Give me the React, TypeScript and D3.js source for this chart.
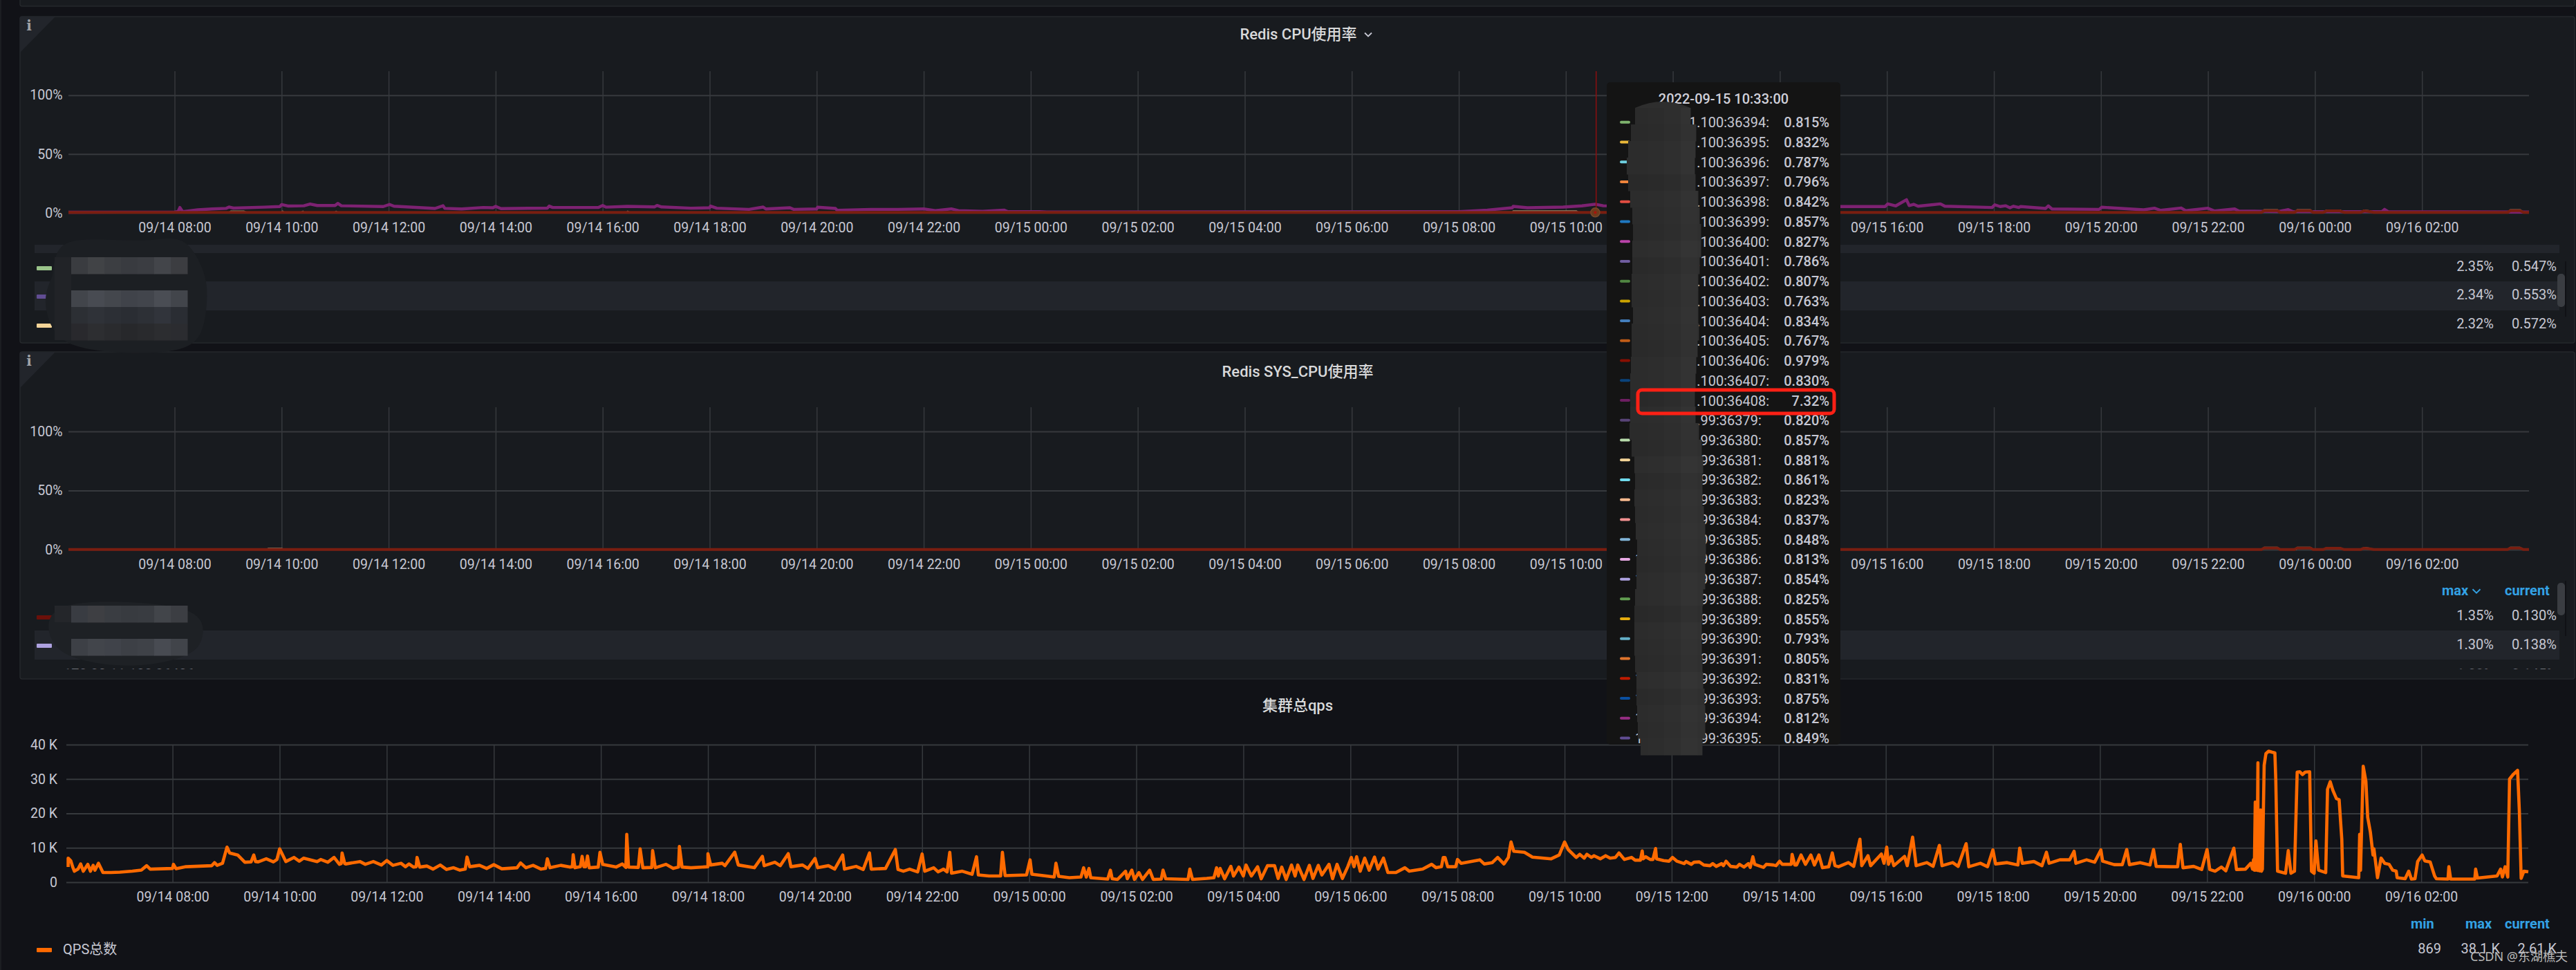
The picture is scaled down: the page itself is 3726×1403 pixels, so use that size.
import { useRef, useEffect } from "react";
import {
  select,
  line,
  scaleLinear,
  scaleTime,
  axisBottom,
  axisLeft,
  timeHour,
  timeFormat,
  curveBasisClosed,
} from "d3";

type Point = [number, number];

// every series point is [hours since 09/14 00:00, value]
const qpsPoints: Point[] = [
  [6.05, 4.4], [6.06, 7.0], [6.1, 6.2], [6.14, 4.5], [6.18, 3.2], [6.24, 3.8], [6.29, 5.3], [6.34, 3.2], [6.42, 5.2], [6.48, 3.2],
  [6.52, 4.9], [6.56, 3.5], [6.62, 5.5], [6.7, 2.8], [6.85, 2.8], [7.02, 2.9], [7.26, 3.2], [7.43, 3.5], [7.52, 4.8], [7.59, 3.8],
  [8.0, 4.0], [8.02, 5.2], [8.08, 3.9], [8.25, 4.5], [8.74, 4.8], [8.79, 5.7], [8.84, 4.9], [8.94, 5.5], [9.02, 10.2], [9.07, 8.5],
  [9.23, 7.9], [9.35, 5.8], [9.48, 5.9], [9.52, 7.9], [9.56, 6.0], [9.6, 5.9], [9.76, 6.8], [9.89, 5.9], [9.95, 6.6], [10.0, 9.7],
  [10.13, 6.0], [10.28, 7.2], [10.38, 6.1], [10.46, 7.0], [10.71, 6.0], [10.77, 6.6], [10.91, 5.8], [11.02, 7.2], [11.12, 5.2], [11.16, 5.4],
  [11.18, 8.5], [11.22, 5.4], [11.24, 5.3], [11.51, 6.0], [11.61, 5.2], [11.76, 6.0], [11.9, 5.0], [12.01, 6.3], [12.12, 4.9], [12.27, 5.5],
  [12.35, 4.5], [12.43, 5.3], [12.51, 4.4], [12.56, 4.5], [12.58, 7.2], [12.62, 4.4], [12.76, 4.7], [12.88, 3.8], [13.0, 5.0], [13.13, 3.7],
  [13.25, 4.2], [13.37, 3.5], [13.48, 3.8], [13.5, 7.3], [13.55, 4.5], [13.74, 4.9], [13.87, 4.0], [14.0, 5.1], [14.15, 3.9], [14.44, 4.2],
  [14.5, 5.6], [14.6, 4.2], [14.74, 4.9], [14.89, 3.8], [14.97, 4.0], [15.0, 6.8], [15.06, 4.2], [15.26, 4.9], [15.42, 4.4], [15.47, 4.5],
  [15.49, 8.0], [15.53, 4.2], [15.63, 4.5], [15.65, 7.5], [15.69, 4.5], [15.73, 4.5], [15.75, 7.6], [15.79, 4.2], [15.96, 4.4], [15.99, 8.7],
  [16.04, 5.2], [16.29, 4.4], [16.41, 5.3], [16.47, 4.3], [16.49, 13.9], [16.53, 4.4], [16.7, 4.3], [16.74, 9.7], [16.79, 4.2], [16.95, 4.3],
  [16.98, 9.2], [17.03, 4.2], [17.23, 5.2], [17.35, 4.0], [17.46, 4.4], [17.48, 10.4], [17.53, 4.4], [17.69, 4.2], [18.0, 4.5], [18.01, 8.3],
  [18.05, 5.0], [18.27, 5.5], [18.33, 4.8], [18.51, 8.7], [18.57, 5.0], [18.87, 4.2], [19.02, 7.5], [19.06, 4.8], [19.26, 5.8], [19.35, 4.8],
  [19.51, 8.3], [19.56, 4.5], [19.78, 5.0], [19.88, 4.0], [20.01, 6.9], [20.05, 4.2], [20.26, 4.8], [20.37, 3.8], [20.52, 7.9], [20.56, 3.8],
  [20.77, 4.6], [20.9, 3.7], [21.02, 8.5], [21.06, 3.8], [21.33, 4.0], [21.51, 9.5], [21.55, 3.7], [21.65, 3.2], [21.77, 3.8], [21.92, 3.0],
  [22.01, 8.2], [22.05, 3.2], [22.23, 4.2], [22.31, 3.0], [22.41, 3.8], [22.47, 3.0], [22.52, 8.7], [22.56, 2.6], [22.75, 3.2], [22.94, 2.3],
  [23.02, 7.4], [23.06, 2.1], [23.25, 1.8], [23.47, 1.8], [23.51, 8.7], [23.56, 1.9], [23.95, 2.1], [24.02, 6.5], [24.06, 2.3], [24.33, 1.8],
  [24.47, 1.5], [24.51, 5.5], [24.55, 1.7], [24.75, 1.3], [24.98, 1.5], [25.03, 4.2], [25.07, 1.5], [25.12, 4.0], [25.16, 1.3], [25.47, 0.9],
  [25.52, 3.5], [25.56, 1.0], [25.66, 0.8], [25.8, 3.2], [25.84, 1.0], [25.93, 3.5], [25.98, 0.8], [26.05, 2.8], [26.12, 0.8], [26.25, 3.5],
  [26.32, 0.8], [26.47, 0.9], [26.51, 3.5], [26.55, 1.0], [26.97, 0.8], [27.01, 3.8], [27.05, 0.8], [27.33, 1.1], [27.46, 1.3], [27.5, 4.2],
  [27.54, 1.8], [27.58, 4.0], [27.66, 1.0], [27.77, 4.6], [27.83, 1.8], [27.93, 4.4], [28.0, 1.8], [28.06, 5.0], [28.16, 1.8], [28.27, 4.5],
  [28.34, 1.0], [28.46, 4.8], [28.59, 4.8], [28.65, 1.1], [28.73, 4.4], [28.8, 0.8], [28.91, 5.0], [28.97, 1.8], [29.03, 5.0], [29.14, 0.8],
  [29.24, 4.9], [29.31, 1.1], [29.41, 4.9], [29.47, 2.1], [29.6, 5.2], [29.67, 1.0], [29.76, 5.2], [29.85, 1.1], [29.95, 4.5], [30.02, 7.2],
  [30.08, 4.5], [30.13, 7.4], [30.19, 3.2], [30.28, 7.0], [30.36, 3.5], [30.45, 7.3], [30.52, 3.8], [30.63, 7.0], [30.71, 2.8], [30.85, 2.8],
  [31.03, 4.2], [31.1, 3.2], [31.35, 3.8], [31.52, 5.2], [31.6, 4.2], [31.7, 4.5], [31.74, 7.2], [31.78, 7.2], [31.82, 4.5], [31.97, 4.5],
  [32.01, 6.6], [32.08, 5.5], [32.42, 6.5], [32.5, 5.3], [32.66, 5.7], [32.75, 7.2], [32.87, 5.3], [32.95, 7.2], [33.0, 11.7], [33.06, 9.0],
  [33.25, 8.7], [33.41, 7.3], [33.75, 6.8], [33.9, 7.9], [34.0, 11.7], [34.08, 9.5], [34.22, 7.2], [34.29, 8.1], [34.37, 7.0], [34.43, 8.1],
  [34.5, 7.2], [34.55, 7.7], [34.67, 6.8], [34.78, 7.7], [34.85, 7.0], [34.95, 7.2], [35.02, 8.5], [35.12, 6.6], [35.25, 7.2], [35.32, 6.4],
  [35.43, 6.4], [35.45, 9.1], [35.47, 6.8], [35.52, 7.4], [35.6, 6.6], [35.66, 6.6], [35.7, 9.8], [35.73, 6.8], [35.85, 6.3], [35.96, 6.1],
  [36.03, 7.2], [36.11, 6.1], [36.24, 5.4], [36.28, 6.0], [36.37, 5.2], [36.43, 5.8], [36.52, 5.9], [36.6, 5.0], [36.73, 4.8], [36.78, 5.4],
  [36.84, 4.6], [36.94, 5.4], [36.97, 4.8], [37.02, 6.1], [37.1, 4.6], [37.23, 4.4], [37.27, 5.2], [37.36, 4.4], [37.44, 5.4], [37.48, 4.3],
  [37.52, 7.4], [37.55, 5.2], [37.72, 4.3], [37.77, 5.2], [37.91, 5.0], [37.96, 4.8], [38.02, 6.1], [38.07, 5.2], [38.24, 5.2], [38.26, 8.1],
  [38.31, 5.0], [38.34, 5.0], [38.43, 7.9], [38.5, 5.2], [38.6, 7.9], [38.67, 5.0], [38.76, 7.9], [38.82, 4.2], [38.94, 4.5], [39.0, 8.5],
  [39.06, 4.8], [39.13, 4.5], [39.3, 5.7], [39.41, 4.6], [39.52, 12.5], [39.56, 4.8], [39.68, 7.7], [39.73, 4.8], [39.93, 8.2], [39.97, 5.5],
  [40.02, 10.2], [40.06, 5.2], [40.1, 7.5], [40.15, 4.8], [40.35, 7.5], [40.4, 4.8], [40.51, 13.1], [40.57, 4.8], [40.77, 5.7], [40.89, 4.6],
  [41.01, 10.7], [41.06, 4.8], [41.26, 5.7], [41.35, 4.6], [41.51, 11.2], [41.56, 4.5], [41.77, 5.5], [41.91, 4.5], [42.01, 9.4], [42.06, 5.3],
  [42.28, 5.7], [42.47, 5.0], [42.51, 9.9], [42.56, 5.5], [42.77, 6.0], [42.93, 4.8], [43.01, 8.7], [43.06, 5.5], [43.25, 6.5], [43.44, 6.5],
  [43.52, 9.0], [43.56, 5.5], [43.76, 6.5], [43.9, 5.8], [44.02, 9.4], [44.06, 6.1], [44.28, 5.1], [44.42, 5.1], [44.51, 9.5], [44.55, 5.1],
  [44.76, 5.7], [44.94, 5.0], [45.01, 9.5], [45.06, 4.6], [45.34, 4.5], [45.46, 4.5], [45.51, 11.0], [45.56, 4.2], [45.76, 4.6], [45.9, 3.7],
  [46.01, 9.5], [46.06, 3.7], [46.16, 3.2], [46.27, 4.4], [46.36, 3.3], [46.5, 9.9], [46.55, 3.7], [46.73, 3.8], [46.83, 5.5], [46.86, 3.8],
  [46.88, 6.5], [46.89, 3.5], [46.9, 23.3], [46.915, 3.5], [46.93, 16], [46.94, 3.5], [46.95, 34.7], [46.965, 3.4], [46.98, 18], [46.995, 3.3],
  [47.01, 21], [47.025, 3.2], [47.04, 3.8], [47.08, 34], [47.1, 37.4], [47.15, 38.1], [47.22, 37.8], [47.27, 37.6], [47.29, 30], [47.33, 3.2],
  [47.48, 2.6], [47.52, 9.2], [47.57, 2.6], [47.64, 3.2], [47.69, 32], [47.74, 32.1], [47.79, 31.3], [47.84, 32], [47.92, 32.1], [47.95, 3.2],
  [48.0, 2.6], [48.04, 12], [48.09, 3.5], [48.22, 2.8], [48.26, 27], [48.3, 29.2], [48.35, 26.7], [48.43, 24.3], [48.47, 24], [48.52, 12.5],
  [48.54, 1.8], [48.84, 1.3], [48.86, 13.9], [48.88, 3.5], [48.93, 33.7], [48.97, 29.3], [49.0, 18.9], [49.05, 14.6], [49.1, 7.9], [49.13, 9.7],
  [49.19, 1.3], [49.25, 7.0], [49.32, 5.5], [49.4, 5.2], [49.47, 3.5], [49.54, 3.2], [49.55, 1.3], [49.71, 1.0], [49.77, 3.2], [49.83, 0.9],
  [49.89, 1.0], [49.94, 6.0], [50.03, 7.9], [50.07, 6.2], [50.18, 5.9], [50.26, 1.8], [50.29, 1.0], [50.51, 0.9], [50.52, 4.5], [50.55, 0.9],
  [51.0, 0.9], [51.02, 3.8], [51.05, 1.2], [51.42, 1.8], [51.49, 3.8], [51.53, 1.5], [51.58, 4.5], [51.62, 1.5], [51.65, 30], [51.72, 31.3],
  [51.81, 32.5], [51.84, 20.6], [51.87, 1.1], [51.92, 3.2], [52.0, 3.0],
];

const cpuPurplePoints: Point[] = [
  [6.03, 0.5], [8.0, 0.7], [8.08, 1.1], [8.11, 4.5], [8.16, 1.0], [8.45, 2.5], [8.7, 3.3], [8.98, 3.8], [9.03, 4.9], [9.11, 4.0],
  [9.68, 4.8], [9.97, 5.3], [10.01, 7.0], [10.13, 5.8], [10.42, 6.0], [10.54, 7.5], [10.67, 6.2], [11.0, 6.2], [11.05, 8.0], [11.12, 6.0],
  [11.9, 5.3], [12.02, 7.1], [12.1, 5.6], [12.88, 3.7], [13.02, 6.0], [13.06, 3.8], [13.37, 3.3], [13.78, 4.5], [13.95, 4.3], [14.01, 5.5],
  [14.11, 3.6], [14.97, 4.0], [15.01, 5.7], [15.08, 4.5], [15.92, 4.5], [16.0, 6.2], [16.08, 4.8], [16.48, 5.5], [16.98, 5.0], [17.02, 6.3],
  [17.1, 5.0], [17.65, 3.9], [18.0, 4.3], [18.03, 5.7], [18.14, 3.9], [18.74, 2.9], [19.0, 4.9], [19.06, 3.3], [19.5, 4.3], [19.57, 2.9],
  [20.0, 3.3], [20.03, 4.7], [20.36, 3.7], [20.39, 2.1], [21.02, 2.9], [21.52, 2.9], [22.01, 3.3], [22.23, 1.8], [22.38, 2.5], [22.52, 3.3],
  [22.66, 1.8], [23.1, 1.2], [23.5, 2.3], [23.58, 1.0], [24.17, 1.0], [24.3, 0.6], [32.0, 1.0], [32.55, 2.3], [33.0, 4.3], [33.03, 5.5],
  [33.3, 4.3], [33.96, 4.9], [34.3, 5.9], [34.55, 7.3], [34.7, 6.0], [39.13, 5.3], [39.47, 5.3], [39.97, 5.3], [40.02, 7.6], [40.18, 5.9],
  [40.37, 11.1], [40.43, 6.2], [40.51, 7.2], [40.59, 5.6], [41.01, 7.6], [41.09, 5.6], [41.97, 4.5], [42.02, 6.8], [42.13, 5.3], [42.23, 6.0],
  [42.3, 4.3], [42.38, 5.6], [42.47, 4.5], [42.51, 5.3], [42.97, 3.7], [43.03, 5.9], [43.09, 3.3], [43.97, 2.9], [44.02, 4.7], [44.8, 2.5],
  [45.01, 3.9], [45.13, 2.1], [45.51, 4.1], [45.59, 1.8], [46.01, 3.9], [46.13, 1.6], [46.51, 3.3], [46.59, 1.4], [46.88, 1.4], [47.3, 1.0],
  [47.51, 2.7], [47.59, 1.0], [49.26, 1.0], [49.3, 2.9], [49.38, 1.0], [52.0, 0.6],
];

const cpuTanPoints: Point[] = [
  [6.03, 0.3], [9.02, 0.4], [9.05, 1.3], [9.3, 1.3], [9.35, 0.4], [10.0, 0.5], [10.03, 1.4], [10.06, 0.4], [10.38, 0.5], [10.4, 1.3],
  [10.43, 0.4], [11.0, 0.5], [11.03, 1.2], [11.06, 0.4], [16.45, 0.4], [16.48, 1.3], [16.51, 0.4], [24.3, 0.4], [28.0, 0.8], [29.0, 1.0],
  [30.0, 0.9], [33.0, 0.6], [33.02, 1.5], [34.2, 1.5], [34.24, 0.4], [47.02, 0.4], [47.05, 2.6], [47.3, 2.6], [47.35, 0.4], [47.65, 0.4],
  [47.68, 2.6], [47.93, 2.6], [47.98, 0.4], [48.18, 0.4], [48.22, 2.3], [48.47, 2.3], [48.55, 0.4], [48.85, 0.4], [48.92, 2.2], [49.0, 1.8],
  [49.1, 0.4], [51.6, 0.4], [51.65, 2.6], [51.84, 2.6], [51.9, 0.4], [52.0, 0.4],
];

const cpuRedPoints: Point[] = [
  [6.03, 0.3], [47.0, 0.3], [47.05, 1.8], [47.3, 1.8], [47.35, 0.3], [47.63, 0.3], [47.68, 1.8], [47.93, 1.8], [47.98, 0.3], [48.15, 0.3],
  [48.22, 1.6], [48.47, 1.6], [48.55, 0.3], [48.85, 0.3], [48.92, 1.6], [49.0, 1.2], [49.1, 0.3], [51.6, 0.3], [51.65, 1.8], [51.84, 1.8],
  [51.9, 0.3], [52.0, 0.3],
];

const sysTanPoints: Point[] = [
  [6.03, 0.2], [9.72, 0.2], [9.75, 1.0], [10.0, 1.0], [10.05, 0.2], [47.02, 0.2], [47.05, 1.9], [47.3, 1.9], [47.35, 0.2], [47.65, 0.2],
  [47.68, 1.9], [47.93, 1.9], [47.98, 0.2], [48.18, 0.2], [48.22, 1.7], [48.47, 1.7], [48.55, 0.2], [48.85, 0.2], [48.92, 1.7], [49.0, 1.3],
  [49.1, 0.2], [51.6, 0.2], [51.65, 1.9], [51.84, 1.9], [51.9, 0.2], [52.0, 0.2],
];

const sysRedPoints: Point[] = [
  [6.03, 0.1], [47.0, 0.1], [47.05, 1.3], [47.3, 1.3], [47.35, 0.1], [47.63, 0.1], [47.68, 1.3], [47.93, 1.3], [47.98, 0.1], [48.15, 0.1],
  [48.22, 1.2], [48.47, 1.2], [48.55, 0.1], [48.85, 0.1], [48.92, 1.2], [49.0, 0.9], [49.1, 0.1], [51.6, 0.1], [51.65, 1.3], [51.84, 1.3],
  [51.9, 0.1], [52.0, 0.1],
];

const tooltipHosts = [
  ...Array(15).fill("172.20.11.100"),
  ...Array(17).fill("172.20.11.99"),
];
const tooltipPorts = [
  36394, 36395, 36396, 36397, 36398, 36399, 36400, 36401, 36402, 36403, 36404, 36405, 36406, 36407, 36408,
  36379, 36380, 36381, 36382, 36383, 36384, 36385, 36386, 36387, 36388, 36389, 36390, 36391, 36392, 36393, 36394, 36395,
];
const tooltipValues = [
  "0.815%", "0.832%", "0.787%", "0.796%", "0.842%", "0.857%", "0.827%", "0.786%", "0.807%", "0.763%", "0.834%", "0.767%", "0.979%", "0.830%", "7.32%",
  "0.820%", "0.857%", "0.881%", "0.861%", "0.823%", "0.837%", "0.848%", "0.813%", "0.854%", "0.825%", "0.855%", "0.793%", "0.805%", "0.831%", "0.875%", "0.812%", "0.849%",
];
const tooltipColors = [
  "#7eb26d", "#eab839", "#6ed0e0", "#ef843c", "#e24d42", "#1f78c1", "#ba43a9", "#705da0", "#508642", "#cca300", "#447ebc", "#c15c17", "#890f02", "#0a437c", "#6d1f62",
  "#584477", "#b7dbab", "#f4d598", "#70dbed", "#f9ba8f", "#f29191", "#82b5d8", "#e5a8e2", "#aea2e0", "#629e51", "#e5ac0e", "#64b0c8", "#e0752d", "#bf1b00", "#0a50a1", "#962d82", "#614d93",
];

const cpuLegend = [
  { color: "#9ac48a", max: "2.35%", current: "0.547%" },
  { color: "#614d93", max: "2.34%", current: "0.553%" },
  { color: "#f4d598", max: "2.32%", current: "0.572%" },
];
const sysLegend = [
  { color: "#6b100a", max: "1.35%", current: "0.130%" },
  { color: "#aea2e0", max: "1.30%", current: "0.138%" },
  { color: "#c7c8d3", max: "1.28%", current: "0.145%" },
];
const qpsStats = { min: "869", max: "38.1 K", current: "2.61 K" };

// hand masked parts of the screenshot: left/right edge of each 24px mosaic row
const maskRows: Point[] = [
  [2365, 2445], [2359, 2453], [2355, 2452], [2353, 2451], [2355, 2452], [2358, 2456], [2361, 2458], [2362, 2460], [2361, 2460], [2361, 2458],
  [2360, 2456], [2360, 2456], [2362, 2456], [2360, 2457], [2360, 2455], [2359, 2453], [2358, 2452], [2358, 2451], [2358, 2452], [2357, 2457],
  [2360, 2461], [2364, 2463], [2365, 2462], [2364, 2462], [2365, 2464], [2366, 2466], [2368, 2467], [2367, 2466], [2367, 2466], [2365, 2463],
  [2364, 2462], [2364, 2461], [2364, 2461], [2365, 2462], [2367, 2463], [2367, 2465], [2368, 2466], [2369, 2466], [2373, 2462],
];
const maskColumnGrey = [43, 44, 46, 50, 48];
const maskRowTint = [0, -1, 1, 1, -2, 1, 0, -1, 2, -1, 1, 0, 1];

const cpuMosaic = [
  ["#3a3c40", "#414346", "#3c3e42", "#393b40", "#3b3d42", "#43454a", "#3c3d41"],
  ["#42454b", "#484b52", "#44474d", "#40434a", "#42454c", "#4a4d54", "#42454b"],
  ["#2c2f34", "#2f3238", "#2c2f35", "#2a2d33", "#2d3036", "#31343b", "#2a2d33"],
  ["#29292d", "#2d2e31", "#2a2b2e", "#27282b", "#292a2d", "#2c2d30", "#2b2c30"],
];
const sysMosaic = [
  ["#393c42", "#3e3f43", "#3a3d42", "#383b40", "#393c41", "#42454a", "#3c3e43"],
  ["#3d4046", "#42454b", "#40434a", "#3d4046", "#3f4248", "#484b52", "#41444a"],
];

const GREY_TEXT = "#c7c8d3";
const PANEL_BG = "#181b1f";
const BAND_BG = "#22252b";
const BORDER = "#25282c";
const GRID = "#36393d";
const BLUE = "#33a2e5";
const FONT = "Roboto, sans-serif";

const width = 3726;
const height = 1403;

const toDate = (h: number) => new Date(2022, 8, 14, 0, h * 60);
const domain = [toDate(6.02), toDate(52.0)];
const tickTimes = timeHour.range(toDate(8), toDate(50.5), 2);

function App() {
  const svgRef = useRef<SVGSVGElement | null>(null);

  useEffect(() => {
    if (!svgRef.current) return;
    const svg = select(svgRef.current);
    svg.selectAll("*").remove();

    svg.append("rect").attr("width", width).attr("height", height).attr("fill", "#111217");
    svg.append("rect").attr("x", 0).attr("width", 2).attr("height", height).attr("fill", "#1b1d21");

    const panelBox = (x: number, y: number, w: number, h: number) =>
      svg
        .append("rect")
        .attr("x", x)
        .attr("y", y)
        .attr("width", w)
        .attr("height", h)
        .attr("rx", 3)
        .attr("fill", PANEL_BG)
        .attr("stroke", BORDER)
        .attr("stroke-width", 1.5);

    const infoCorner = (x: number, y: number) => {
      svg
        .append("path")
        .attr("d", `M${x},${y}H${x + 51}L${x},${y + 52}Z`)
        .attr("fill", BAND_BG);
      svg
        .append("text")
        .attr("x", x + 13)
        .attr("y", y + 20)
        .attr("text-anchor", "middle")
        .attr("font-family", "DejaVu Serif")
        .attr("font-weight", 700)
        .attr("font-size", 20)
        .attr("fill", "#a2a4a9")
        .text("i");
    };

    panelBox(29, -10, 3695, 19);
    panelBox(29, 24, 3695, 472);
    panelBox(29, 509, 3695, 473);
    infoCorner(29, 24);
    infoCorner(29, 509);

    const title = (cx: number, y: number, text: string) =>
      svg
        .append("text")
        .attr("x", cx)
        .attr("y", y)
        .attr("text-anchor", "middle")
        .attr("dy", "0.35em")
        .attr("font-family", `${FONT}, "Noto Sans CJK SC"`)
        .attr("font-weight", 500)
        .attr("font-size", 22)
        .attr("fill", "#d8d9da")
        .text(text);

    const chevron = (cx: number, cy: number, w: number, stroke: string) =>
      svg
        .append("path")
        .attr("d", `M${cx - w / 2},${cy - w / 4}L${cx},${cy + w / 4}L${cx + w / 2},${cy - w / 4}`)
        .attr("fill", "none")
        .attr("stroke", stroke)
        .attr("stroke-width", 1.8);

    title(1878, 49, "Redis CPU使用率");
    chevron(1979, 50, 10, "#c7c8d3");
    title(1877, 537, "Redis SYS_CPU使用率");
    title(1877, 1020, "集群总qps");

    const drawAxes = (
      x: any,
      y: any,
      top: number,
      yTicks: number[],
      yFormat: (d: number) => string,
      yPadding: number
    ) => {
      const [left, right] = x.range();
      const base = y(0);

      svg
        .append("g")
        .attr("transform", `translate(0, ${base})`)
        .call(
          axisBottom(x)
            .tickValues(tickTimes as any)
            .tickFormat(timeFormat("%m/%d %H:%M") as any)
            .tickSize(-(base - top))
            .tickPadding(14.5)
        )
        .call((g: any) => g.select(".domain").remove())
        .call((g: any) => g.selectAll(".tick line").attr("stroke", GRID).attr("stroke-width", 1.5))
        .call((g: any) =>
          g
            .selectAll(".tick text")
            .attr("fill", GREY_TEXT)
            .attr("font-family", FONT)
            .attr("font-size", 19.5)
        )
        // labels sitting fully under the tooltip are not visible in the panel
        .call((g: any) =>
          g
            .selectAll(".tick text")
            .filter((d: any) => base < 1000 && x(d) - 52 > 2324 && x(d) + 52 < 2662)
            .remove()
        );

      svg
        .append("g")
        .attr("transform", `translate(${left}, 0)`)
        .call(
          axisLeft(y)
            .tickValues(yTicks)
            .tickFormat(yFormat as any)
            .tickSize(-(right - left))
            .tickPadding(yPadding)
        )
        .call((g: any) => g.select(".domain").remove())
        .call((g: any) => g.selectAll(".tick line").attr("stroke", GRID).attr("stroke-width", 2))
        .call((g: any) =>
          g
            .selectAll(".tick text")
            .attr("fill", GREY_TEXT)
            .attr("font-family", FONT)
            .attr("font-size", 19.5)
        );
    };

    const drawLine = (
      x: any,
      y: any,
      data: Point[],
      stroke: string,
      strokeWidth: number
    ) => {
      const path = line<Point>()
        .x((d) => x(toDate(d[0])))
        .y((d) => y(d[1]));
      svg
        .append("path")
        .attr("d", path(data))
        .attr("fill", "none")
        .attr("stroke", stroke)
        .attr("stroke-width", strokeWidth)
        .attr("stroke-linejoin", "round");
    };

    // Redis CPU panel
    const xCpu = scaleTime().domain(domain).range([99, 3658]);
    const yCpu = scaleLinear().domain([0, 100]).range([307.8, 137.7]);
    const percent = (d: number) => `${d}%`;
    drawAxes(xCpu, yCpu, 103, [0, 50, 100], percent, 8.5);
    drawLine(xCpu, yCpu, cpuPurplePoints, "#7d2272", 4.4);
    drawLine(xCpu, yCpu, cpuTanPoints, "#a08a6e", 2);
    drawLine(xCpu, yCpu, cpuRedPoints, "#7a1e10", 4);

    // Crosshair of the hovered sample
    svg
      .append("line")
      .attr("x1", xCpu(toDate(34.58)))
      .attr("x2", xCpu(toDate(34.58)))
      .attr("y1", 103)
      .attr("y2", yCpu(0))
      .attr("stroke", "#8a0f0f")
      .attr("stroke-width", 1.5);
    svg
      .append("circle")
      .attr("cx", xCpu(toDate(34.55)))
      .attr("cy", yCpu(0.3))
      .attr("r", 6.5)
      .attr("fill", "#6e3a1c")
      .attr("stroke", "#74492c")
      .attr("stroke-width", 1.5);
    svg
      .append("circle")
      .attr("cx", xCpu(toDate(34.55)))
      .attr("cy", yCpu(0.3))
      .attr("r", 2)
      .attr("fill", "#a8140c");

    // Redis SYS_CPU panel
    const xSys = scaleTime().domain(domain).range([99, 3658]);
    const ySys = scaleLinear().domain([0, 100]).range([795, 624]);
    drawAxes(xSys, ySys, 589, [0, 50, 100], percent, 8.5);
    drawLine(xSys, ySys, sysTanPoints, "#a08a6e", 2);
    drawLine(xSys, ySys, sysRedPoints, "#7a1e10", 4);

    // QPS panel
    const xQps = scaleTime().domain(domain).range([96, 3657]);
    const yQps = scaleLinear().domain([0, 40]).range([1276, 1077]);
    drawAxes(xQps, yQps, 1077, [0, 10, 20, 30, 40], (d) => (d === 0 ? "0" : `${d} K`), 13);
    drawLine(xQps, yQps, qpsPoints, "#ff6a00", 4.6);

    // Legends
    const band = (y: number, h: number) =>
      svg
        .append("rect")
        .attr("x", 50)
        .attr("y", y)
        .attr("width", 3652)
        .attr("height", h)
        .attr("fill", BAND_BG);

    const legendText = (parent: any, x: number, y: number, text: string, anchor = "end") =>
      parent
        .append("text")
        .attr("x", x)
        .attr("y", y)
        .attr("dy", "0.35em")
        .attr("text-anchor", anchor)
        .attr("font-family", `${FONT}, "Noto Sans CJK SC"`)
        .attr("font-size", 20)
        .attr("fill", GREY_TEXT)
        .text(text);

    const legendHeader = (x: number, y: number, text: string, anchor = "start") =>
      legendText(svg, x, y, text, anchor).attr("font-weight", 700).attr("fill", BLUE);

    const swatch = (y: number, color: string) =>
      svg
        .append("rect")
        .attr("x", 53)
        .attr("y", y - 3)
        .attr("width", 22)
        .attr("height", 6)
        .attr("rx", 1)
        .attr("fill", color);

    const scrollbar = (trackTop: number, trackBottom: number, thumbTop: number, thumbBottom: number) => {
      svg
        .append("line")
        .attr("x1", 3711)
        .attr("x2", 3711)
        .attr("y1", trackTop)
        .attr("y2", trackBottom)
        .attr("stroke", "#0c0d10")
        .attr("stroke-width", 1.2);
      svg
        .append("rect")
        .attr("x", 3699)
        .attr("y", thumbTop)
        .attr("width", 11)
        .attr("height", thumbBottom - thumbTop)
        .attr("rx", 5)
        .attr("fill", "#3a3d42");
    };

    const mosaic = (rows: string[][], y0: number[]) => {
      rows.forEach((cells, r) =>
        cells.forEach((fill, c) =>
          svg
            .append("rect")
            .attr("x", 103 + c * 24)
            .attr("y", y0[r])
            .attr("width", 24.5)
            .attr("height", 24.5)
            .attr("fill", fill)
        )
      );
    };

    const blob = (pts: Point[], fill: string) =>
      svg
        .append("path")
        .attr("d", line().curve(curveBasisClosed)(pts))
        .attr("fill", fill);

    band(354, 12);
    band(407, 42);
    [388, 429, 471].forEach((y, i) => {
      swatch(y, cpuLegend[i].color);
      legendText(svg, 3607, y - 3, cpuLegend[i].max);
      legendText(svg, 3698, y - 3, cpuLegend[i].current);
    });
    scrollbar(378, 458, 396, 444);
    blob(
      [[76, 395], [82, 352], [125, 344], [210, 350], [245, 342], [275, 350], [300, 400], [300, 440], [292, 495], [250, 510], [180, 512], [100, 503], [72, 475], [62, 430], [76, 400]],
      "#1c1f23"
    );
    svg.append("rect").attr("x", 79).attr("y", 372).attr("width", 24).attr("height", 120).attr("fill", "#212327");
    mosaic(cpuMosaic, [372, 420, 444, 468]);

    band(912, 42);
    [893, 934].forEach((y, i) => swatch(y, sysLegend[i].color));
    legendHeader(3532, 854, "max");
    chevron(3582, 855, 11, BLUE);
    legendHeader(3623, 854, "current");

    const clip = svg.append("defs").append("clipPath").attr("id", "sys-legend");
    clip.append("rect").attr("x", 29).attr("y", 840).attr("width", 3690).attr("height", 127.5);
    const sysRows = svg.append("g").attr("clip-path", "url(#sys-legend)");
    [890, 932, 975].forEach((y, i) => {
      legendText(sysRows, 3607, y, sysLegend[i].max);
      legendText(sysRows, 3698, y, sysLegend[i].current);
    });
    legendText(sysRows, 92, 975, "172.20.11.100:36406", "start");
    scrollbar(840, 920, 843, 890);
    blob(
      [[68, 872], [180, 868], [295, 880], [295, 925], [280, 948], [200, 968], [100, 955], [68, 925]],
      "#1e2125"
    );
    svg.append("rect").attr("x", 79).attr("y", 876).attr("width", 24).attr("height", 24).attr("fill", "#24262a");
    mosaic(sysMosaic, [876, 924]);

    svg.append("rect").attr("x", 53).attr("y", 1371).attr("width", 22).attr("height", 6.3).attr("rx", 1).attr("fill", "#ff6a00");
    legendText(svg, 91, 1373, "QPS总数", "start");
    legendHeader(3487, 1336, "min");
    legendHeader(3566, 1336, "max");
    legendHeader(3623, 1336, "current");
    legendText(svg, 3531, 1372, qpsStats.min);
    legendText(svg, 3616, 1372, qpsStats.max);
    legendText(svg, 3698, 1372, qpsStats.current);

    // Tooltip
    const rowY = scaleLinear().domain([0, tooltipPorts.length - 1]).range([177.3, 1068]);
    svg
      .append("rect")
      .attr("x", 2324)
      .attr("y", 119)
      .attr("width", 338)
      .attr("height", 958)
      .attr("rx", 5)
      .attr("fill", "#141414");
    svg
      .append("text")
      .attr("x", 2493)
      .attr("y", 143)
      .attr("dy", "0.35em")
      .attr("text-anchor", "middle")
      .attr("font-family", FONT)
      .attr("font-weight", 500)
      .attr("font-size", 20)
      .attr("fill", "#d0d0da")
      .text("2022-09-15 10:33:00");

    tooltipPorts.forEach((port, i) => {
      const y = rowY(i);
      svg
        .append("rect")
        .attr("x", 2343)
        .attr("y", y - 2.5)
        .attr("width", 15)
        .attr("height", 4)
        .attr("rx", 2)
        .attr("fill", tooltipColors[i]);
      legendText(svg, 2365, y, `${tooltipHosts[i]}:${port}:`, "start");
      legendText(svg, 2646, y, tooltipValues[i]).attr("font-weight", 500);
    });

    // Hand blur over the tooltip host names
    svg.append("path").attr("d", "M2365,156Q2405,138 2445,156Z").attr("fill", "#2e2e2e");
    maskRows.forEach(([l, r], row) => {
      maskColumnGrey.forEach((grey, col) => {
        const cellLeft = Math.max(l, 2359 + (col === 0 ? -10 : col * 24));
        const cellRight = Math.min(r, col === 4 ? 2480 : 2359 + (col + 1) * 24);
        if (cellRight <= cellLeft) return;
        const g = grey + maskRowTint[row % maskRowTint.length];
        svg
          .append("rect")
          .attr("x", cellLeft)
          .attr("y", 156 + row * 24)
          .attr("width", cellRight - cellLeft + 0.5)
          .attr("height", 24.5)
          .attr("fill", `rgb(${g},${g},${g})`);
      });
    });

    // Red annotation box around the outlier
    svg
      .append("rect")
      .attr("x", 2369)
      .attr("y", 564)
      .attr("width", 284)
      .attr("height", 34)
      .attr("rx", 6)
      .attr("fill", "none")
      .attr("stroke", "#fb2015")
      .attr("stroke-width", 5);

    // Watermark
    svg
      .append("text")
      .attr("x", 3573)
      .attr("y", 1384)
      .attr("dy", "0.35em")
      .attr("font-family", `"Noto Sans", "Noto Sans CJK SC"`)
      .attr("font-size", 18)
      .attr("fill", "#b9b9b9")
      .text("CSDN @东湖樵夫");
  }, []);

  return (
    <svg
      ref={svgRef}
      width={width}
      height={height}
      viewBox={`0 0 ${width} ${height}`}
      style={{ position: "absolute", left: 0, top: 0, display: "block" }}
    ></svg>
  );
}

export default App;
